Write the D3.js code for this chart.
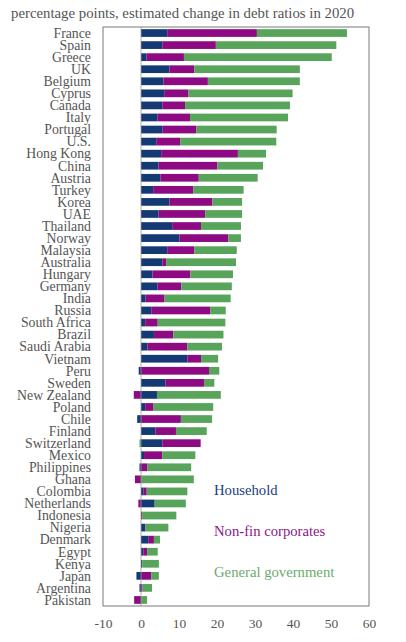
<!DOCTYPE html>
<html lang="en">
<head>
    <meta charset="UTF-8">
    <title>Estimated change in debt ratios in 2020</title>
    <style>
        body {
            margin: 0;
            padding: 0;
            background-color: #ffffff;
        }
        svg {
            display: block;
            font-family: "Liberation Serif", "DejaVu Serif", serif;
        }
    </style>
    <script src="https://d3js.org/d3.v7.min.js"></script>
</head>
<body>
    <script>
        const width = 406;
        const height = 642;

        const countries = [
            "France", "Spain", "Greece", "UK", "Belgium", "Cyprus", "Canada", "Italy",
            "Portugal", "U.S.", "Hong Kong", "China", "Austria", "Turkey", "Korea", "UAE",
            "Thailand", "Norway", "Malaysia", "Australia", "Hungary", "Germany", "India",
            "Russia", "South Africa", "Brazil", "Saudi Arabia", "Vietnam", "Peru", "Sweden",
            "New Zealand", "Poland", "Chile", "Finland", "Switzerland", "Mexico",
            "Philippines", "Ghana", "Colombia", "Netherlands", "Indonesia", "Nigeria",
            "Denmark", "Egypt", "Kenya", "Japan", "Argentina", "Pakistan"
        ];

        const household = [
            6.9, 5.6, 1.4, 7.5, 5.9, 6.1, 5.6, 4.3, 5.6, 4.0, 5.3, 4.6,
            5.1, 3.2, 7.5, 4.6, 8.2, 10.1, 6.9, 5.6, 3.0, 4.3, 1.2, 2.7,
            1.1, 3.4, 1.7, 12.2, -0.6, 6.4, 4.2, 1.1, -1.0, 3.8, 5.6, 0.8,
            -0.4, 0, 0.6, 3.6, 0, 1.1, 1.9, 0.6, 0.3, -1.2, -0.4, 0
        ];

        const corporates = [
            23.6, 14.1, 9.9, 6.5, 11.7, 6.4, 6.0, 8.6, 9.0, 6.3, 20.2, 15.5,
            10.1, 10.6, 11.3, 12.3, 7.6, 12.9, 7.1, 1.0, 10.0, 6.3, 5.0, 15.5,
            3.3, 5.1, 10.5, 3.6, 17.9, 10.2, -1.9, 2.2, 10.5, 5.4, 10.1, 4.8,
            1.6, -1.6, 0.9, -0.7, 0.3, 0.1, 1.5, 1.0, 0, 2.7, 0.4, -1.8
        ];

        const government = [
            23.7, 31.7, 38.9, 27.8, 24.2, 27.4, 27.6, 25.8, 21.1, 25.3, 7.4, 12.0,
            15.5, 13.2, 7.8, 9.7, 10.5, 3.3, 11.2, 18.4, 11.2, 13.3, 17.4, 4.1,
            17.8, 13.2, 9.1, 4.5, 2.7, 2.7, 16.8, 15.7, 8.2, 8.1, -0.4, 8.7,
            11.6, 13.9, 10.7, 8.2, 9.0, 6.0, 1.6, 2.8, 4.4, 2.0, 2.5, 1.6
        ];

        const seriesKeys = ["household", "corporates", "government"];
        const seriesLabels = ["Household", "Non-fin corporates", "General government"];
        const xTicks = [-10, 0, 10, 20, 30, 40, 50, 60];

        const barColors = ["#143a74", "#8d0a82", "#58a45a"];
        const legendColors = ["#1b3d7c", "#8c1686", "#6cab6c"];

        const rows = countries.map((c, i) => ({
            country: c,
            household: household[i],
            corporates: corporates[i],
            government: government[i]
        }));

        const stacked = d3.stack()
            .keys(seriesKeys)
            .offset(d3.stackOffsetDiverging)(rows);

        const plot = { left: 103, right: 369, top: 27, bottom: 606 };

        const x = d3.scaleLinear()
            .domain([-10, 60])
            .range([plot.left, plot.right]);

        const y = d3.scaleBand()
            .domain(countries)
            .range([plot.top, plot.bottom])
            .paddingInner(0.36)
            .paddingOuter(0.18);

        const svg = d3.select("body").append("svg")
            .attr("width", width)
            .attr("height", height);

        // title
        svg.append("text")
            .attr("x", 11)
            .attr("y", 18)
            .attr("fill", "#555")
            .attr("font-size", 14.8)
            .text("percentage points, estimated change in debt ratios in 2020");

        // bars
        svg.append("g")
            .selectAll("g")
            .data(stacked)
            .join("g")
            .attr("fill", (d, i) => barColors[i])
            .selectAll("rect")
            .data(d => d)
            .join("rect")
            .attr("x", d => x(Math.min(d[0], d[1])))
            .attr("width", d => Math.abs(x(d[1]) - x(d[0])))
            .attr("y", d => y(d.data.country))
            .attr("height", y.bandwidth());

        // zero line
        svg.append("line")
            .attr("x1", x(0)).attr("x2", x(0))
            .attr("y1", plot.top).attr("y2", plot.bottom)
            .attr("stroke", "#999")
            .attr("stroke-width", 0.8);

        // frame
        svg.append("rect")
            .attr("x", plot.left)
            .attr("y", plot.top)
            .attr("width", plot.right - plot.left)
            .attr("height", plot.bottom - plot.top)
            .attr("fill", "none")
            .attr("stroke", "#7a7a7a")
            .attr("stroke-width", 1);

        // country labels
        svg.append("g")
            .selectAll("text")
            .data(countries)
            .join("text")
            .attr("x", 91)
            .attr("y", d => y(d) + y.bandwidth() / 2)
            .attr("dy", "0.35em")
            .attr("text-anchor", "end")
            .attr("fill", "#555")
            .attr("font-size", 13.8)
            .text(d => d);

        // x axis
        const xAxis = svg.append("g")
            .attr("transform", `translate(0,${plot.bottom})`)
            .call(d3.axisBottom(x).tickValues(xTicks).tickSize(0).tickPadding(12)
                .tickFormat(d => String(d)));
        xAxis.select(".domain").remove();
        xAxis.selectAll("text")
            .attr("fill", "#555")
            .attr("font-size", 13.5)
            .attr("font-family", "Liberation Serif, serif");

        // legend
        svg.append("g")
            .selectAll("text")
            .data(seriesLabels)
            .join("text")
            .attr("x", 214)
            .attr("y", (d, i) => 495 + i * 41)
            .attr("fill", (d, i) => legendColors[i])
            .attr("font-size", 14.7)
            .text(d => d);
    </script>
</body>
</html>
